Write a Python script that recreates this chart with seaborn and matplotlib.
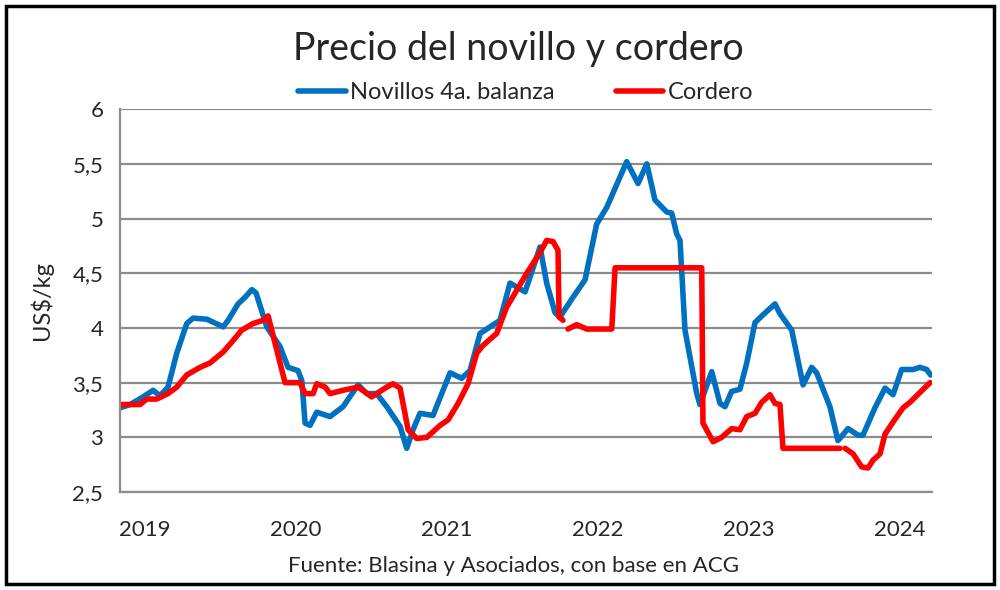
import numpy as np
import pandas as pd
import seaborn as sns
import matplotlib.pyplot as plt
from matplotlib.patches import Rectangle
from matplotlib.ticker import FuncFormatter

# Novillos 4a. balanza (US$/kg), x in decimal years
nov_t = [2018.834, 2018.901, 2018.987, 2019.053, 2019.099, 2019.152, 2019.210, 2019.276,
         2019.318, 2019.409, 2019.517, 2019.550, 2019.616, 2019.662, 2019.707, 2019.735,
         2019.806, 2019.894, 2019.947, 2020.013, 2020.038, 2020.060, 2020.093, 2020.137,
         2020.225, 2020.311, 2020.411, 2020.468, 2020.534, 2020.601, 2020.689, 2020.733,
         2020.775, 2020.821, 2020.907, 2021.020, 2021.097, 2021.152, 2021.219, 2021.351,
         2021.417, 2021.517, 2021.616, 2021.660, 2021.715, 2021.748, 2021.834, 2021.914,
         2021.991, 2022.057, 2022.190, 2022.265, 2022.323, 2022.377, 2022.455, 2022.488,
         2022.521, 2022.543, 2022.576, 2022.654, 2022.675, 2022.753, 2022.808, 2022.841,
         2022.885, 2022.940, 2022.985, 2023.040, 2023.093, 2023.172, 2023.205, 2023.283,
         2023.358, 2023.415, 2023.448, 2023.536, 2023.589, 2023.656, 2023.722, 2023.755,
         2023.834, 2023.901, 2023.954, 2024.011, 2024.086, 2024.132, 2024.177, 2024.203]
nov_v = [3.27, 3.30, 3.37, 3.43, 3.38, 3.46, 3.77, 4.04,
         4.09, 4.08, 4.01, 4.07, 4.22, 4.28, 4.35, 4.32,
         4.01, 3.83, 3.64, 3.61, 3.52, 3.13, 3.11, 3.23,
         3.19, 3.28, 3.48, 3.40, 3.40, 3.28, 3.10, 2.90,
         3.07, 3.22, 3.20, 3.59, 3.54, 3.61, 3.95, 4.07,
         4.41, 4.33, 4.74, 4.41, 4.14, 4.10, 4.28, 4.44,
         4.95, 5.10, 5.52, 5.32, 5.50, 5.17, 5.06, 5.05,
         4.86, 4.80, 3.98, 3.40, 3.30, 3.60, 3.31, 3.28,
         3.42, 3.44, 3.68, 4.05, 4.12, 4.22, 4.13, 3.98,
         3.48, 3.64, 3.59, 3.28, 2.97, 3.08, 3.02, 3.02,
         3.27, 3.45, 3.39, 3.62, 3.62, 3.64, 3.62, 3.57]

# Cordero (US$/kg), three pieces because the series has gaps
cor_t = [2018.834, 2018.967, 2019.011, 2019.077, 2019.152, 2019.210, 2019.276, 2019.364,
         2019.430, 2019.517, 2019.574, 2019.640, 2019.715, 2019.781, 2019.815, 2019.861,
         2019.927, 2020.026, 2020.060, 2020.113, 2020.137, 2020.192, 2020.225, 2020.311,
         2020.411, 2020.501, 2020.601, 2020.642, 2020.689, 2020.742, 2020.799, 2020.866,
         2020.954, 2021.007, 2021.073, 2021.139, 2021.197, 2021.238, 2021.329, 2021.395,
         2021.528, 2021.616, 2021.660, 2021.702, 2021.735, 2021.742, 2021.768,
         2021.801, 2021.859, 2021.925, 2022.091, 2022.113, 2022.687, 2022.695, 2022.762,
         2022.819, 2022.885, 2022.940, 2022.985, 2023.040, 2023.084, 2023.139, 2023.172,
         2023.205, 2023.225, 2023.603,
         2023.636, 2023.689, 2023.746, 2023.788, 2023.821, 2023.868, 2023.901, 2023.954,
         2024.020, 2024.066, 2024.132, 2024.199]
cor_v = [3.30, 3.30, 3.35, 3.35, 3.40, 3.46, 3.57, 3.64,
         3.68, 3.78, 3.87, 3.98, 4.04, 4.07, 4.11, 3.86,
         3.50, 3.50, 3.40, 3.40, 3.49, 3.46, 3.40, 3.43,
         3.46, 3.37, 3.46, 3.49, 3.45, 3.07, 2.99, 3.00,
         3.11, 3.16, 3.31, 3.49, 3.77, 3.84, 3.95, 4.19,
         4.50, 4.69, 4.80, 4.79, 4.71, 4.10, 4.07,
         3.99, 4.03, 3.99, 3.99, 4.55, 4.55, 3.13, 2.96,
         3.00, 3.08, 3.07, 3.19, 3.22, 3.32, 3.39, 3.31,
         3.30, 2.90, 2.90,
         2.90, 2.85, 2.73, 2.72, 2.79, 2.85, 3.03, 3.14,
         3.27, 3.32, 3.41, 3.50]
cor_seg = [0] * 47 + [1] * 19 + [2] * 12

years = [2019, 2020, 2021, 2022, 2023, 2024]
y_ticks = [2.5, 3, 3.5, 4, 4.5, 5, 5.5, 6]

df = pd.concat([
    pd.DataFrame({"t": nov_t, "v": nov_v, "serie": "Novillos 4a. balanza", "seg": "n"}),
    pd.DataFrame({"t": cor_t, "v": cor_v, "serie": "Cordero",
                  "seg": ["c%d" % s for s in cor_seg]}),
], ignore_index=True)

sns.set_style("white")
plt.rcParams["font.family"] = ["Lato", "DejaVu Sans"]

fig = plt.figure(figsize=(10, 5.9), dpi=100)
ax = fig.add_axes([0.12, 0.166, 0.812, 0.649])

sns.lineplot(data=df, x="t", y="v", hue="serie", units="seg", estimator=None, sort=False,
             palette={"Novillos 4a. balanza": "#0070C0", "Cordero": "#FF0000"},
             linewidth=4, ax=ax)

ax.set_xlim(2018.834, 2024.212)
ax.set_ylim(2.5, 6)
ax.set_yticks(y_ticks)
ax.yaxis.set_major_formatter(FuncFormatter(lambda v, p: ("%g" % v).replace(".", ",")))
ax.set_xticks(years)
ax.set_xticklabels([str(y) for y in years])
ax.tick_params(axis="both", length=0, labelsize=16)
ax.tick_params(axis="x", pad=20)
ax.tick_params(axis="y", pad=12)
ax.grid(axis="y", color="#8c8c8c", linewidth=1.6)
ax.set_axisbelow(True)
for s in ["top", "right"]:
    ax.spines[s].set_visible(False)
for s in ["left", "bottom"]:
    ax.spines[s].set_color("#8c8c8c")
    ax.spines[s].set_linewidth(1.6)

ax.set_xlabel("")
ax.set_ylabel("US$/kg", fontsize=17, labelpad=14)

sns.move_legend(ax, "lower center", bbox_to_anchor=(0.5, 0.96), ncol=2, frameon=False,
                title=None, fontsize=17, handlelength=2.0, columnspacing=2.6, handletextpad=0.2)

fig.text(0.518, 0.917, "Precio del novillo y cordero", ha="center", va="center", fontsize=27)
fig.text(0.513, 0.04, "Fuente: Blasina y Asociados, con base en ACG", ha="center",
         va="center", fontsize=16)

fig.patches.append(Rectangle((0.006, 0.01), 0.988, 0.98, transform=fig.transFigure,
                             fill=False, edgecolor="black", linewidth=2.5))

fig.savefig("out.png", dpi=100)
